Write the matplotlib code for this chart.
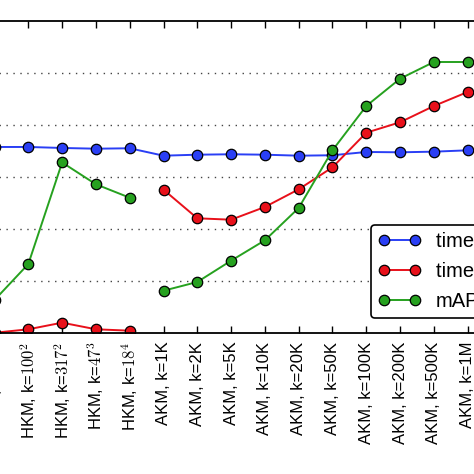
import numpy as np
from matplotlib import pyplot as plt

#-----------------------------------------------------------------------
#	Data (x = method index, y = grid units)
#-----------------------------------------------------------------------

labels = ['HKM, k=$10^4$', 'HKM, k=$100^2$', 'HKM, k=$317^2$', 'HKM, k=$47^3$', 'HKM, k=$18^4$',
	'AKM, k=1K', 'AKM, k=2K', 'AKM, k=5K', 'AKM, k=10K', 'AKM, k=20K',
	'AKM, k=50K', 'AKM, k=100K', 'AKM, k=200K', 'AKM, k=500K', 'AKM, k=1M']

timeBlue = [3.574, 3.574, 3.555, 3.541, 3.549, 3.407, 3.426, 3.434, 3.426, 3.407,
	3.415, 3.478, 3.472, 3.484, 3.510]

timeRedHkm = [0.01, 0.077, 0.204, 0.077, 0.05]
timeRedAkm = [2.755, 2.206, 2.179, 2.423, 2.762, 3.184, 3.848, 4.048, 4.360, 4.629]

mapHkm = [0.639, 1.329, 3.277, 2.858, 2.601]
mapAkm = [0.817, 0.984, 1.393, 1.784, 2.404, 3.510, 4.360, 4.884, 5.204, 5.204]

seriesNames = ['time (build)', 'time (query)', 'mAP']
colors = ['#2a3ff5', '#e8101a', '#26a11f']

#-----------------------------------------------------------------------
#	Figure
#-----------------------------------------------------------------------

plt.rcParams['font.family'] = ['Liberation Sans', 'DejaVu Sans']
plt.rcParams['mathtext.fontset'] = 'cm'

W = 474.0
x0 = 28.33
step = 33.795
xmin, xmax = -1.5, 13.6
left = (x0 + xmin * step) / W
right = (x0 + xmax * step) / W
top = 1 - 20.5 / W
bottom = 1 - 333.3 / W

fig = plt.figure(figsize=(4.74, 4.74), dpi=100)
ax = fig.add_axes([left, bottom, right - left, top - bottom])

xAll = np.arange(-1, len(labels) - 1)
xHkm = xAll[:5]
xAkm = xAll[5:]

style = dict(marker='o', markersize=7.5, markeredgecolor='black', markeredgewidth=0.9, linewidth=1.4)

ax.plot(xAll, timeBlue, color=colors[0], label=seriesNames[0], **style)
ax.plot(xHkm, timeRedHkm, color=colors[1], label=seriesNames[1], **style)
ax.plot(xAkm, timeRedAkm, color=colors[1], **style)
ax.plot(xHkm, mapHkm, color=colors[2], label=seriesNames[2], **style)
ax.plot(xAkm, mapAkm, color=colors[2], **style)

ax.set_xlim(xmin, xmax)
ax.set_ylim(0, 6)
ax.set_xticks(xAll)
ax.set_xticklabels(labels, rotation=90, fontsize=12)
ax.set_yticks([1, 2, 3, 4, 5])
ax.set_yticklabels([])
ax.yaxis.grid(True, linestyle=(0, (1, 4)), color='#444444', linewidth=1.0)
ax.tick_params(axis='x', direction='in', top=True, length=5, width=1.0, pad=6)
ax.tick_params(axis='y', length=0)
for s in ['top', 'bottom']:
	ax.spines[s].set_linewidth(1.3)
for s in ['left', 'right']:
	ax.spines[s].set_visible(False)

leg = ax.legend(loc='upper left', bbox_to_anchor=(370.5 / W, 1 - 225 / W), bbox_transform=fig.transFigure,
	numpoints=2, fontsize=14.5, handlelength=2.17, handletextpad=0.72, labelspacing=0.55,
	borderpad=0.35, borderaxespad=0, fancybox=True, framealpha=1)
leg.get_frame().set_edgecolor('black')
leg.get_frame().set_linewidth(1.2)

fig.savefig('out.png', dpi=100)
